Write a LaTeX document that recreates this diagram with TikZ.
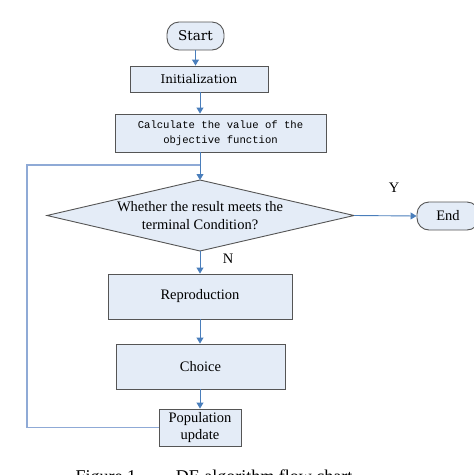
\documentclass[tikz,border=0pt]{standalone}
\usepackage{fontspec}
\setmainfont{Liberation Serif}
\newfontfamily\cambr{DejaVu Serif}
\newfontfamily\monof{Liberation Mono}
\usetikzlibrary{arrows.meta}
\definecolor{boxfill}{HTML}{E4ECF7}
\definecolor{boxdraw}{HTML}{555555}
\definecolor{arrowc}{HTML}{4A7EBB}
\definecolor{loopc}{HTML}{8FAAD6}
\tikzset{
  procbox/.style={draw=boxdraw, fill=boxfill, line width=0.9pt, inner sep=0pt, align=center},
  termbox/.style={procbox, rounded corners=12pt},
  conn/.style={draw=arrowc, line width=0.9pt, -{Triangle[length=6pt,width=7pt]}},
  loopline/.style={draw=loopc, line width=1.2pt},
  lbl/.style={font=\fontsize{14.5}{16}\selectfont, inner sep=0pt}
}
\begin{document}
\begin{tikzpicture}[x=1pt,y=-1pt]
\useasboundingbox (0,0) rectangle (474,475);
\clip (0,0) rectangle (474,475);
% nodes
\node[termbox, minimum width=57pt, minimum height=28pt, font=\cambr\fontsize{13.5}{15}\selectfont] (start) at (195.5,36) {Start};
\node[procbox, minimum width=138pt, minimum height=26pt, font=\cambr\fontsize{12}{14}\selectfont] (init) at (199,79) {Initialization};
\node[procbox, minimum width=211pt, minimum height=38pt, font=\monof\fontsize{10.6}{15}\selectfont] (calc) at (220.5,133) {Calculate the value of the\\objective function};
% diamond
\coordinate (dt) at (200,180);
\coordinate (db) at (200,251);
\coordinate (dl) at (47,215.5);
\coordinate (dr) at (354,215.5);
\filldraw[draw=boxdraw, fill=boxfill, line width=0.9pt] (dt) -- (dr) -- (db) -- (dl) -- cycle;
\node[align=center, font=\fontsize{14.5}{18}\selectfont, inner sep=0pt] (dtext) at (200,216) {Whether the result meets the\\terminal Condition?};
\node[termbox, minimum width=62pt, minimum height=28pt, font=\fontsize{14.5}{16}\selectfont] (end) at (448,216) {End};
\node[procbox, minimum width=184pt, minimum height=45pt, font=\fontsize{14.5}{16}\selectfont] (repr) at (200,296.5) {Reproduction};
\node[procbox, minimum width=169pt, minimum height=45pt, font=\fontsize{14.5}{16}\selectfont] (choice) at (200.5,366.5) {Choice};
\node[procbox, minimum width=82pt, minimum height=37pt, font=\fontsize{14.5}{16.5}\selectfont] (pop) at (200,427.5) {Population\\update};
\node[lbl] (ylab) at (394,188) {Y};
\node[lbl] (nlab) at (228,259) {N};
\node[font=\fontsize{18}{20}\selectfont, inner sep=0pt, anchor=base] (cap) at (214,482) {Figure 1\hspace{2.2em}DE algorithm flow chart};
% loop line
\coordinate (lbot) at (27,427.5);
\coordinate (ltop) at (27,165);
\coordinate (ljoin) at (200,165);
\draw[loopline] (pop.west) -- (lbot) -- (ltop) -- (ljoin);
% connectors
\draw[conn] (start.south) -- (init.north -| start.south);
\draw[conn] (init.south -| 200,0) -- (calc.north -| 200,0);
\draw[conn] (calc.south -| 200,0) -- (dt);
\draw[conn] (dr) -- (end.west);
\draw[conn] (db) -- (repr.north);
\draw[conn] (repr.south) -- (choice.north -| repr.south);
\draw[conn] (choice.south -| pop.north) -- (pop.north);
\end{tikzpicture}
\end{document}
